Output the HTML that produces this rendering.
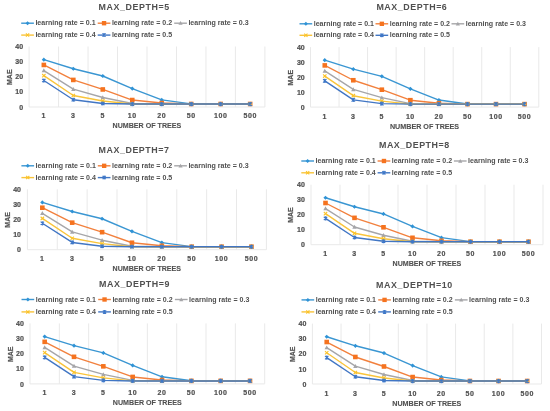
<!DOCTYPE html>
<html><head><meta charset="utf-8"><style>
html,body{margin:0;padding:0;background:#fff;}
svg{display:block;font-family:"Liberation Sans",sans-serif;filter:blur(0.35px);}
.t{fill:#505050;font-weight:bold;stroke:#505050;stroke-width:0.2px;}
.tt{stroke-width:0.0px;}
.tl{font-weight:bold;stroke-width:0.0px;}
.ta{stroke-width:0.2px;}
.tx{stroke-width:0.1px;}
</style></head><body>
<svg width="550" height="411" viewBox="0 0 550 411">
<rect width="550" height="411" fill="#fff"/>
<g><text x="98.40" y="10.10" font-size="8.9" textLength="70.70" lengthAdjust="spacing" class="t tt">MAX_DEPTH=5</text>
<line x1="21.20" y1="23.20" x2="33.90" y2="23.20" stroke="#3a96d2" stroke-width="1.4"/>
<path d="M27.55 21.20L29.54 23.20L27.55 25.20L25.55 23.20Z" fill="#2f93d6"/>
<text x="35.40" y="25.20" font-size="7.15" class="t tl" textLength="60.3" lengthAdjust="spacingAndGlyphs">learning rate = 0.1</text>
<line x1="97.70" y1="23.20" x2="110.40" y2="23.20" stroke="#f2803d" stroke-width="1.4"/>
<rect x="101.86" y="21.02" width="4.37" height="4.37" fill="#f5731f"/>
<text x="111.90" y="25.20" font-size="7.15" class="t tl" textLength="60.3" lengthAdjust="spacingAndGlyphs">learning rate = 0.2</text>
<line x1="174.20" y1="23.20" x2="186.90" y2="23.20" stroke="#a6a6a9" stroke-width="1.4"/>
<path d="M180.55 21.11L182.64 24.87L178.46 24.87Z" fill="#a5a5a8"/>
<text x="188.40" y="25.20" font-size="7.15" class="t tl" textLength="60.3" lengthAdjust="spacingAndGlyphs">learning rate = 0.3</text>
<line x1="21.20" y1="35.10" x2="33.90" y2="35.10" stroke="#f9c43a" stroke-width="1.4"/>
<path d="M25.93 33.48L29.16 36.72M29.16 33.48L25.93 36.72" stroke="#fbc32a" stroke-width="1.1" fill="none"/>
<text x="35.40" y="37.10" font-size="7.15" class="t tl" textLength="60.3" lengthAdjust="spacingAndGlyphs">learning rate = 0.4</text>
<line x1="97.70" y1="35.10" x2="110.40" y2="35.10" stroke="#4176c4" stroke-width="1.4"/>
<path d="M102.44 33.48L105.66 36.72M105.66 33.48L102.44 36.72M104.05 33.09L104.05 37.12" stroke="#3f78c8" stroke-width="1.1" fill="none"/>
<text x="111.90" y="37.10" font-size="7.15" class="t tl" textLength="60.3" lengthAdjust="spacingAndGlyphs">learning rate = 0.5</text>
<line x1="29.10" y1="46.50" x2="29.10" y2="107.00" stroke="#e9e9e9" stroke-width="1"/>
<line x1="58.58" y1="46.50" x2="58.58" y2="107.00" stroke="#e9e9e9" stroke-width="1"/>
<line x1="88.05" y1="46.50" x2="88.05" y2="107.00" stroke="#e9e9e9" stroke-width="1"/>
<line x1="117.53" y1="46.50" x2="117.53" y2="107.00" stroke="#e9e9e9" stroke-width="1"/>
<line x1="147.00" y1="46.50" x2="147.00" y2="107.00" stroke="#e9e9e9" stroke-width="1"/>
<line x1="176.47" y1="46.50" x2="176.47" y2="107.00" stroke="#e9e9e9" stroke-width="1"/>
<line x1="205.95" y1="46.50" x2="205.95" y2="107.00" stroke="#e9e9e9" stroke-width="1"/>
<line x1="235.42" y1="46.50" x2="235.42" y2="107.00" stroke="#e9e9e9" stroke-width="1"/>
<line x1="264.90" y1="46.50" x2="264.90" y2="107.00" stroke="#e9e9e9" stroke-width="1"/>
<line x1="29.10" y1="107.00" x2="264.90" y2="107.00" stroke="#e9e9e9" stroke-width="1"/>
<text x="23.1" y="109.60" font-size="7.0" class="t ta" text-anchor="end">0</text>
<text x="23.1" y="94.47" font-size="7.0" class="t ta" text-anchor="end">10</text>
<text x="23.1" y="79.35" font-size="7.0" class="t ta" text-anchor="end">20</text>
<text x="23.1" y="64.22" font-size="7.0" class="t ta" text-anchor="end">30</text>
<text x="23.1" y="49.10" font-size="7.0" class="t ta" text-anchor="end">40</text>
<text transform="translate(11.50,77.20) rotate(-90)" font-size="7.0" class="t ta" text-anchor="middle">MAE</text>
<text x="43.84" y="118.30" font-size="7.0" letter-spacing="0.6" class="t ta" text-anchor="middle">1</text>
<text x="73.31" y="118.30" font-size="7.0" letter-spacing="0.6" class="t ta" text-anchor="middle">3</text>
<text x="102.79" y="118.30" font-size="7.0" letter-spacing="0.6" class="t ta" text-anchor="middle">5</text>
<text x="132.26" y="118.30" font-size="7.0" letter-spacing="0.6" class="t ta" text-anchor="middle">10</text>
<text x="161.74" y="118.30" font-size="7.0" letter-spacing="0.6" class="t ta" text-anchor="middle">20</text>
<text x="191.21" y="118.30" font-size="7.0" letter-spacing="0.6" class="t ta" text-anchor="middle">50</text>
<text x="220.69" y="118.30" font-size="7.0" letter-spacing="0.6" class="t ta" text-anchor="middle">100</text>
<text x="250.16" y="118.30" font-size="7.0" letter-spacing="0.6" class="t ta" text-anchor="middle">500</text>
<text x="112.50" y="128.20" font-size="7.5" class="t tx" textLength="68.80" lengthAdjust="spacingAndGlyphs">NUMBER OF TREES</text>
<path d="M43.84 59.66L73.31 68.73L102.79 75.99L132.26 88.55L161.74 99.89L191.21 103.90L220.69 103.90L250.16 103.90" stroke="#3a96d2" stroke-width="1.4" fill="none" stroke-linejoin="round"/>
<path d="M43.84 57.56L45.94 59.66L43.84 61.76L41.74 59.66Z" fill="#2f93d6"/>
<path d="M73.31 66.63L75.41 68.73L73.31 70.83L71.21 68.73Z" fill="#2f93d6"/>
<path d="M102.79 73.89L104.89 75.99L102.79 78.09L100.69 75.99Z" fill="#2f93d6"/>
<path d="M132.26 86.45L134.36 88.55L132.26 90.65L130.16 88.55Z" fill="#2f93d6"/>
<path d="M161.74 97.79L163.84 99.89L161.74 101.99L159.64 99.89Z" fill="#2f93d6"/>
<path d="M191.21 101.80L193.31 103.90L191.21 106.00L189.11 103.90Z" fill="#2f93d6"/>
<path d="M220.69 101.80L222.79 103.90L220.69 106.00L218.59 103.90Z" fill="#2f93d6"/>
<path d="M250.16 101.80L252.26 103.90L250.16 106.00L248.06 103.90Z" fill="#2f93d6"/>
<path d="M43.84 64.95L73.31 79.93L102.79 89.45L132.26 100.04L161.74 103.07L191.21 103.97L220.69 103.97L250.16 103.97" stroke="#f2803d" stroke-width="1.4" fill="none" stroke-linejoin="round"/>
<rect x="41.54" y="62.65" width="4.60" height="4.60" fill="#f5731f"/>
<rect x="71.01" y="77.63" width="4.60" height="4.60" fill="#f5731f"/>
<rect x="100.49" y="87.16" width="4.60" height="4.60" fill="#f5731f"/>
<rect x="129.96" y="97.74" width="4.60" height="4.60" fill="#f5731f"/>
<rect x="159.44" y="100.77" width="4.60" height="4.60" fill="#f5731f"/>
<rect x="188.91" y="101.67" width="4.60" height="4.60" fill="#f5731f"/>
<rect x="218.39" y="101.67" width="4.60" height="4.60" fill="#f5731f"/>
<rect x="247.86" y="101.67" width="4.60" height="4.60" fill="#f5731f"/>
<path d="M43.84 70.55L73.31 89.15L102.79 97.47L132.26 103.52L161.74 103.97L191.21 103.97L220.69 103.97L250.16 103.97" stroke="#a6a6a9" stroke-width="1.4" fill="none" stroke-linejoin="round"/>
<path d="M43.84 68.35L46.04 72.31L41.64 72.31Z" fill="#a5a5a8"/>
<path d="M73.31 86.95L75.51 90.91L71.11 90.91Z" fill="#a5a5a8"/>
<path d="M102.79 95.27L104.99 99.23L100.59 99.23Z" fill="#a5a5a8"/>
<path d="M132.26 101.32L134.46 105.28L130.06 105.28Z" fill="#a5a5a8"/>
<path d="M161.74 101.77L163.94 105.73L159.54 105.73Z" fill="#a5a5a8"/>
<path d="M191.21 101.77L193.41 105.73L189.01 105.73Z" fill="#a5a5a8"/>
<path d="M220.69 101.77L222.89 105.73L218.49 105.73Z" fill="#a5a5a8"/>
<path d="M250.16 101.77L252.36 105.73L247.96 105.73Z" fill="#a5a5a8"/>
<path d="M43.84 75.69L73.31 95.50L102.79 100.95L132.26 103.97L161.74 103.97L191.21 103.97L220.69 103.97L250.16 103.97" stroke="#f9c43a" stroke-width="1.4" fill="none" stroke-linejoin="round"/>
<path d="M42.14 73.99L45.54 77.39M45.54 73.99L42.14 77.39" stroke="#fbc32a" stroke-width="1.1" fill="none"/>
<path d="M71.61 93.80L75.01 97.20M75.01 93.80L71.61 97.20" stroke="#fbc32a" stroke-width="1.1" fill="none"/>
<path d="M101.09 99.25L104.49 102.65M104.49 99.25L101.09 102.65" stroke="#fbc32a" stroke-width="1.1" fill="none"/>
<path d="M130.56 102.27L133.96 105.67M133.96 102.27L130.56 105.67" stroke="#fbc32a" stroke-width="1.1" fill="none"/>
<path d="M160.04 102.27L163.44 105.67M163.44 102.27L160.04 105.67" stroke="#fbc32a" stroke-width="1.1" fill="none"/>
<path d="M189.51 102.27L192.91 105.67M192.91 102.27L189.51 105.67" stroke="#fbc32a" stroke-width="1.1" fill="none"/>
<path d="M218.99 102.27L222.39 105.67M222.39 102.27L218.99 105.67" stroke="#fbc32a" stroke-width="1.1" fill="none"/>
<path d="M248.46 102.27L251.86 105.67M251.86 102.27L248.46 105.67" stroke="#fbc32a" stroke-width="1.1" fill="none"/>
<path d="M43.84 80.53L73.31 99.74L102.79 103.52L132.26 104.05L161.74 104.05L191.21 104.05L220.69 104.05L250.16 104.05" stroke="#4176c4" stroke-width="1.4" fill="none" stroke-linejoin="round"/>
<path d="M42.14 78.83L45.54 82.23M45.54 78.83L42.14 82.23M43.84 78.43L43.84 82.63" stroke="#3f78c8" stroke-width="1.1" fill="none"/>
<path d="M71.61 98.04L75.01 101.44M75.01 98.04L71.61 101.44M73.31 97.64L73.31 101.84" stroke="#3f78c8" stroke-width="1.1" fill="none"/>
<path d="M101.09 101.82L104.49 105.22M104.49 101.82L101.09 105.22M102.79 101.42L102.79 105.62" stroke="#3f78c8" stroke-width="1.1" fill="none"/>
<path d="M130.56 102.35L133.96 105.75M133.96 102.35L130.56 105.75M132.26 101.95L132.26 106.15" stroke="#3f78c8" stroke-width="1.1" fill="none"/>
<path d="M160.04 102.35L163.44 105.75M163.44 102.35L160.04 105.75M161.74 101.95L161.74 106.15" stroke="#3f78c8" stroke-width="1.1" fill="none"/>
<path d="M189.51 102.35L192.91 105.75M192.91 102.35L189.51 105.75M191.21 101.95L191.21 106.15" stroke="#3f78c8" stroke-width="1.1" fill="none"/>
<path d="M218.99 102.35L222.39 105.75M222.39 102.35L218.99 105.75M220.69 101.95L220.69 106.15" stroke="#3f78c8" stroke-width="1.1" fill="none"/>
<path d="M248.46 102.35L251.86 105.75M251.86 102.35L248.46 105.75M250.16 101.95L250.16 106.15" stroke="#3f78c8" stroke-width="1.1" fill="none"/></g><g><text x="376.40" y="10.40" font-size="8.9" textLength="70.40" lengthAdjust="spacing" class="t tt">MAX_DEPTH=6</text>
<line x1="299.50" y1="23.80" x2="312.20" y2="23.80" stroke="#3a96d2" stroke-width="1.4"/>
<path d="M305.85 21.80L307.85 23.80L305.85 25.80L303.86 23.80Z" fill="#2f93d6"/>
<text x="313.70" y="25.80" font-size="7.15" class="t tl" textLength="60.3" lengthAdjust="spacingAndGlyphs">learning rate = 0.1</text>
<line x1="375.50" y1="23.80" x2="388.20" y2="23.80" stroke="#f2803d" stroke-width="1.4"/>
<rect x="379.67" y="21.62" width="4.37" height="4.37" fill="#f5731f"/>
<text x="389.70" y="25.80" font-size="7.15" class="t tl" textLength="60.3" lengthAdjust="spacingAndGlyphs">learning rate = 0.2</text>
<line x1="451.50" y1="23.80" x2="464.20" y2="23.80" stroke="#a6a6a9" stroke-width="1.4"/>
<path d="M457.85 21.71L459.94 25.47L455.76 25.47Z" fill="#a5a5a8"/>
<text x="465.70" y="25.80" font-size="7.15" class="t tl" textLength="60.3" lengthAdjust="spacingAndGlyphs">learning rate = 0.3</text>
<line x1="299.50" y1="35.30" x2="312.20" y2="35.30" stroke="#f9c43a" stroke-width="1.4"/>
<path d="M304.24 33.68L307.47 36.91M307.47 33.68L304.24 36.91" stroke="#fbc32a" stroke-width="1.1" fill="none"/>
<text x="313.70" y="37.30" font-size="7.15" class="t tl" textLength="60.3" lengthAdjust="spacingAndGlyphs">learning rate = 0.4</text>
<line x1="375.50" y1="35.30" x2="388.20" y2="35.30" stroke="#4176c4" stroke-width="1.4"/>
<path d="M380.24 33.68L383.47 36.91M383.47 33.68L380.24 36.91M381.85 33.28L381.85 37.31" stroke="#3f78c8" stroke-width="1.1" fill="none"/>
<text x="389.70" y="37.30" font-size="7.15" class="t tl" textLength="60.3" lengthAdjust="spacingAndGlyphs">learning rate = 0.5</text>
<line x1="310.50" y1="47.10" x2="310.50" y2="107.10" stroke="#e9e9e9" stroke-width="1"/>
<line x1="339.04" y1="47.10" x2="339.04" y2="107.10" stroke="#e9e9e9" stroke-width="1"/>
<line x1="367.57" y1="47.10" x2="367.57" y2="107.10" stroke="#e9e9e9" stroke-width="1"/>
<line x1="396.11" y1="47.10" x2="396.11" y2="107.10" stroke="#e9e9e9" stroke-width="1"/>
<line x1="424.65" y1="47.10" x2="424.65" y2="107.10" stroke="#e9e9e9" stroke-width="1"/>
<line x1="453.19" y1="47.10" x2="453.19" y2="107.10" stroke="#e9e9e9" stroke-width="1"/>
<line x1="481.72" y1="47.10" x2="481.72" y2="107.10" stroke="#e9e9e9" stroke-width="1"/>
<line x1="510.26" y1="47.10" x2="510.26" y2="107.10" stroke="#e9e9e9" stroke-width="1"/>
<line x1="538.80" y1="47.10" x2="538.80" y2="107.10" stroke="#e9e9e9" stroke-width="1"/>
<line x1="310.50" y1="107.10" x2="538.80" y2="107.10" stroke="#e9e9e9" stroke-width="1"/>
<text x="304.7" y="109.70" font-size="7.0" class="t ta" text-anchor="end">0</text>
<text x="304.7" y="94.70" font-size="7.0" class="t ta" text-anchor="end">10</text>
<text x="304.7" y="79.70" font-size="7.0" class="t ta" text-anchor="end">20</text>
<text x="304.7" y="64.70" font-size="7.0" class="t ta" text-anchor="end">30</text>
<text x="304.7" y="49.70" font-size="7.0" class="t ta" text-anchor="end">40</text>
<text transform="translate(293.35,77.70) rotate(-90)" font-size="7.0" class="t ta" text-anchor="middle">MAE</text>
<text x="324.77" y="118.70" font-size="7.0" letter-spacing="0.6" class="t ta" text-anchor="middle">1</text>
<text x="353.31" y="118.70" font-size="7.0" letter-spacing="0.6" class="t ta" text-anchor="middle">3</text>
<text x="381.84" y="118.70" font-size="7.0" letter-spacing="0.6" class="t ta" text-anchor="middle">5</text>
<text x="410.38" y="118.70" font-size="7.0" letter-spacing="0.6" class="t ta" text-anchor="middle">10</text>
<text x="438.92" y="118.70" font-size="7.0" letter-spacing="0.6" class="t ta" text-anchor="middle">20</text>
<text x="467.46" y="118.70" font-size="7.0" letter-spacing="0.6" class="t ta" text-anchor="middle">50</text>
<text x="495.99" y="118.70" font-size="7.0" letter-spacing="0.6" class="t ta" text-anchor="middle">100</text>
<text x="524.53" y="118.70" font-size="7.0" letter-spacing="0.6" class="t ta" text-anchor="middle">500</text>
<text x="389.95" y="128.90" font-size="7.5" class="t tx" textLength="69.20" lengthAdjust="spacingAndGlyphs">NUMBER OF TREES</text>
<path d="M324.77 60.15L353.31 69.15L381.84 76.35L410.38 88.80L438.92 100.05L467.46 104.02L495.99 104.02L524.53 104.02" stroke="#3a96d2" stroke-width="1.4" fill="none" stroke-linejoin="round"/>
<path d="M324.77 58.05L326.87 60.15L324.77 62.25L322.67 60.15Z" fill="#2f93d6"/>
<path d="M353.31 67.05L355.41 69.15L353.31 71.25L351.21 69.15Z" fill="#2f93d6"/>
<path d="M381.84 74.25L383.94 76.35L381.84 78.45L379.74 76.35Z" fill="#2f93d6"/>
<path d="M410.38 86.70L412.48 88.80L410.38 90.90L408.28 88.80Z" fill="#2f93d6"/>
<path d="M438.92 97.95L441.02 100.05L438.92 102.15L436.82 100.05Z" fill="#2f93d6"/>
<path d="M467.46 101.92L469.56 104.02L467.46 106.12L465.36 104.02Z" fill="#2f93d6"/>
<path d="M495.99 101.92L498.09 104.02L495.99 106.12L493.89 104.02Z" fill="#2f93d6"/>
<path d="M524.53 101.92L526.63 104.02L524.53 106.12L522.43 104.02Z" fill="#2f93d6"/>
<path d="M324.77 65.40L353.31 80.25L381.84 89.70L410.38 100.20L438.92 103.20L467.46 104.10L495.99 104.10L524.53 104.10" stroke="#f2803d" stroke-width="1.4" fill="none" stroke-linejoin="round"/>
<rect x="322.47" y="63.10" width="4.60" height="4.60" fill="#f5731f"/>
<rect x="351.01" y="77.95" width="4.60" height="4.60" fill="#f5731f"/>
<rect x="379.54" y="87.40" width="4.60" height="4.60" fill="#f5731f"/>
<rect x="408.08" y="97.90" width="4.60" height="4.60" fill="#f5731f"/>
<rect x="436.62" y="100.90" width="4.60" height="4.60" fill="#f5731f"/>
<rect x="465.16" y="101.80" width="4.60" height="4.60" fill="#f5731f"/>
<rect x="493.69" y="101.80" width="4.60" height="4.60" fill="#f5731f"/>
<rect x="522.23" y="101.80" width="4.60" height="4.60" fill="#f5731f"/>
<path d="M324.77 70.95L353.31 89.40L381.84 97.65L410.38 103.65L438.92 104.10L467.46 104.10L495.99 104.10L524.53 104.10" stroke="#a6a6a9" stroke-width="1.4" fill="none" stroke-linejoin="round"/>
<path d="M324.77 68.75L326.97 72.71L322.57 72.71Z" fill="#a5a5a8"/>
<path d="M353.31 87.20L355.51 91.16L351.11 91.16Z" fill="#a5a5a8"/>
<path d="M381.84 95.45L384.04 99.41L379.64 99.41Z" fill="#a5a5a8"/>
<path d="M410.38 101.45L412.58 105.41L408.18 105.41Z" fill="#a5a5a8"/>
<path d="M438.92 101.90L441.12 105.86L436.72 105.86Z" fill="#a5a5a8"/>
<path d="M467.46 101.90L469.66 105.86L465.26 105.86Z" fill="#a5a5a8"/>
<path d="M495.99 101.90L498.19 105.86L493.79 105.86Z" fill="#a5a5a8"/>
<path d="M524.53 101.90L526.73 105.86L522.33 105.86Z" fill="#a5a5a8"/>
<path d="M324.77 76.05L353.31 95.70L381.84 101.10L410.38 104.10L438.92 104.10L467.46 104.10L495.99 104.10L524.53 104.10" stroke="#f9c43a" stroke-width="1.4" fill="none" stroke-linejoin="round"/>
<path d="M323.07 74.35L326.47 77.75M326.47 74.35L323.07 77.75" stroke="#fbc32a" stroke-width="1.1" fill="none"/>
<path d="M351.61 94.00L355.01 97.40M355.01 94.00L351.61 97.40" stroke="#fbc32a" stroke-width="1.1" fill="none"/>
<path d="M380.14 99.40L383.54 102.80M383.54 99.40L380.14 102.80" stroke="#fbc32a" stroke-width="1.1" fill="none"/>
<path d="M408.68 102.40L412.08 105.80M412.08 102.40L408.68 105.80" stroke="#fbc32a" stroke-width="1.1" fill="none"/>
<path d="M437.22 102.40L440.62 105.80M440.62 102.40L437.22 105.80" stroke="#fbc32a" stroke-width="1.1" fill="none"/>
<path d="M465.76 102.40L469.16 105.80M469.16 102.40L465.76 105.80" stroke="#fbc32a" stroke-width="1.1" fill="none"/>
<path d="M494.29 102.40L497.69 105.80M497.69 102.40L494.29 105.80" stroke="#fbc32a" stroke-width="1.1" fill="none"/>
<path d="M522.83 102.40L526.23 105.80M526.23 102.40L522.83 105.80" stroke="#fbc32a" stroke-width="1.1" fill="none"/>
<path d="M324.77 80.85L353.31 99.90L381.84 103.65L410.38 104.17L438.92 104.17L467.46 104.17L495.99 104.17L524.53 104.17" stroke="#4176c4" stroke-width="1.4" fill="none" stroke-linejoin="round"/>
<path d="M323.07 79.15L326.47 82.55M326.47 79.15L323.07 82.55M324.77 78.75L324.77 82.95" stroke="#3f78c8" stroke-width="1.1" fill="none"/>
<path d="M351.61 98.20L355.01 101.60M355.01 98.20L351.61 101.60M353.31 97.80L353.31 102.00" stroke="#3f78c8" stroke-width="1.1" fill="none"/>
<path d="M380.14 101.95L383.54 105.35M383.54 101.95L380.14 105.35M381.84 101.55L381.84 105.75" stroke="#3f78c8" stroke-width="1.1" fill="none"/>
<path d="M408.68 102.47L412.08 105.88M412.08 102.47L408.68 105.88M410.38 102.07L410.38 106.28" stroke="#3f78c8" stroke-width="1.1" fill="none"/>
<path d="M437.22 102.47L440.62 105.88M440.62 102.47L437.22 105.88M438.92 102.07L438.92 106.28" stroke="#3f78c8" stroke-width="1.1" fill="none"/>
<path d="M465.76 102.47L469.16 105.88M469.16 102.47L465.76 105.88M467.46 102.07L467.46 106.28" stroke="#3f78c8" stroke-width="1.1" fill="none"/>
<path d="M494.29 102.47L497.69 105.88M497.69 102.47L494.29 105.88M495.99 102.07L495.99 106.28" stroke="#3f78c8" stroke-width="1.1" fill="none"/>
<path d="M522.83 102.47L526.23 105.88M526.23 102.47L522.83 105.88M524.53 102.07L524.53 106.28" stroke="#3f78c8" stroke-width="1.1" fill="none"/></g><g><text x="98.60" y="153.20" font-size="8.9" textLength="70.30" lengthAdjust="spacing" class="t tt">MAX_DEPTH=7</text>
<line x1="21.40" y1="165.80" x2="34.10" y2="165.80" stroke="#3a96d2" stroke-width="1.4"/>
<path d="M27.75 163.81L29.75 165.80L27.75 167.80L25.75 165.80Z" fill="#2f93d6"/>
<text x="35.60" y="167.80" font-size="7.15" class="t tl" textLength="60.3" lengthAdjust="spacingAndGlyphs">learning rate = 0.1</text>
<line x1="97.80" y1="165.80" x2="110.50" y2="165.80" stroke="#f2803d" stroke-width="1.4"/>
<rect x="101.97" y="163.62" width="4.37" height="4.37" fill="#f5731f"/>
<text x="112.00" y="167.80" font-size="7.15" class="t tl" textLength="60.3" lengthAdjust="spacingAndGlyphs">learning rate = 0.2</text>
<line x1="174.20" y1="165.80" x2="186.90" y2="165.80" stroke="#a6a6a9" stroke-width="1.4"/>
<path d="M180.55 163.71L182.64 167.47L178.46 167.47Z" fill="#a5a5a8"/>
<text x="188.40" y="167.80" font-size="7.15" class="t tl" textLength="60.3" lengthAdjust="spacingAndGlyphs">learning rate = 0.3</text>
<line x1="21.40" y1="177.60" x2="34.10" y2="177.60" stroke="#f9c43a" stroke-width="1.4"/>
<path d="M26.14 175.98L29.36 179.22M29.36 175.98L26.14 179.22" stroke="#fbc32a" stroke-width="1.1" fill="none"/>
<text x="35.60" y="179.60" font-size="7.15" class="t tl" textLength="60.3" lengthAdjust="spacingAndGlyphs">learning rate = 0.4</text>
<line x1="97.80" y1="177.60" x2="110.50" y2="177.60" stroke="#4176c4" stroke-width="1.4"/>
<path d="M102.54 175.98L105.77 179.22M105.77 175.98L102.54 179.22M104.15 175.58L104.15 179.62" stroke="#3f78c8" stroke-width="1.1" fill="none"/>
<text x="112.00" y="179.60" font-size="7.15" class="t tl" textLength="60.3" lengthAdjust="spacingAndGlyphs">learning rate = 0.5</text>
<line x1="27.40" y1="189.30" x2="27.40" y2="249.70" stroke="#e9e9e9" stroke-width="1"/>
<line x1="57.27" y1="189.30" x2="57.27" y2="249.70" stroke="#e9e9e9" stroke-width="1"/>
<line x1="87.15" y1="189.30" x2="87.15" y2="249.70" stroke="#e9e9e9" stroke-width="1"/>
<line x1="117.02" y1="189.30" x2="117.02" y2="249.70" stroke="#e9e9e9" stroke-width="1"/>
<line x1="146.90" y1="189.30" x2="146.90" y2="249.70" stroke="#e9e9e9" stroke-width="1"/>
<line x1="176.77" y1="189.30" x2="176.77" y2="249.70" stroke="#e9e9e9" stroke-width="1"/>
<line x1="206.65" y1="189.30" x2="206.65" y2="249.70" stroke="#e9e9e9" stroke-width="1"/>
<line x1="236.52" y1="189.30" x2="236.52" y2="249.70" stroke="#e9e9e9" stroke-width="1"/>
<line x1="266.40" y1="189.30" x2="266.40" y2="249.70" stroke="#e9e9e9" stroke-width="1"/>
<line x1="27.40" y1="249.70" x2="266.40" y2="249.70" stroke="#e9e9e9" stroke-width="1"/>
<text x="21.0" y="252.30" font-size="7.0" class="t ta" text-anchor="end">0</text>
<text x="21.0" y="237.20" font-size="7.0" class="t ta" text-anchor="end">10</text>
<text x="21.0" y="222.10" font-size="7.0" class="t ta" text-anchor="end">20</text>
<text x="21.0" y="207.00" font-size="7.0" class="t ta" text-anchor="end">30</text>
<text x="21.0" y="191.90" font-size="7.0" class="t ta" text-anchor="end">40</text>
<text transform="translate(9.70,219.90) rotate(-90)" font-size="7.0" class="t ta" text-anchor="middle">MAE</text>
<text x="42.34" y="261.00" font-size="7.0" letter-spacing="0.6" class="t ta" text-anchor="middle">1</text>
<text x="72.21" y="261.00" font-size="7.0" letter-spacing="0.6" class="t ta" text-anchor="middle">3</text>
<text x="102.09" y="261.00" font-size="7.0" letter-spacing="0.6" class="t ta" text-anchor="middle">5</text>
<text x="131.96" y="261.00" font-size="7.0" letter-spacing="0.6" class="t ta" text-anchor="middle">10</text>
<text x="161.84" y="261.00" font-size="7.0" letter-spacing="0.6" class="t ta" text-anchor="middle">20</text>
<text x="191.71" y="261.00" font-size="7.0" letter-spacing="0.6" class="t ta" text-anchor="middle">50</text>
<text x="221.59" y="261.00" font-size="7.0" letter-spacing="0.6" class="t ta" text-anchor="middle">100</text>
<text x="251.46" y="261.00" font-size="7.0" letter-spacing="0.6" class="t ta" text-anchor="middle">500</text>
<text x="112.55" y="271.30" font-size="7.5" class="t tx" textLength="68.50" lengthAdjust="spacingAndGlyphs">NUMBER OF TREES</text>
<path d="M42.34 202.44L72.21 211.50L102.09 218.75L131.96 231.28L161.84 242.60L191.71 246.60L221.59 246.60L251.46 246.60" stroke="#3a96d2" stroke-width="1.4" fill="none" stroke-linejoin="round"/>
<path d="M42.34 200.34L44.44 202.44L42.34 204.54L40.24 202.44Z" fill="#2f93d6"/>
<path d="M72.21 209.40L74.31 211.50L72.21 213.60L70.11 211.50Z" fill="#2f93d6"/>
<path d="M102.09 216.65L104.19 218.75L102.09 220.84L99.99 218.75Z" fill="#2f93d6"/>
<path d="M131.96 229.18L134.06 231.28L131.96 233.38L129.86 231.28Z" fill="#2f93d6"/>
<path d="M161.84 240.50L163.94 242.60L161.84 244.70L159.74 242.60Z" fill="#2f93d6"/>
<path d="M191.71 244.50L193.81 246.60L191.71 248.70L189.61 246.60Z" fill="#2f93d6"/>
<path d="M221.59 244.50L223.69 246.60L221.59 248.70L219.49 246.60Z" fill="#2f93d6"/>
<path d="M251.46 244.50L253.56 246.60L251.46 248.70L249.36 246.60Z" fill="#2f93d6"/>
<path d="M42.34 207.72L72.21 222.67L102.09 232.18L131.96 242.75L161.84 245.77L191.71 246.68L221.59 246.68L251.46 246.68" stroke="#f2803d" stroke-width="1.4" fill="none" stroke-linejoin="round"/>
<rect x="40.04" y="205.42" width="4.60" height="4.60" fill="#f5731f"/>
<rect x="69.91" y="220.37" width="4.60" height="4.60" fill="#f5731f"/>
<rect x="99.79" y="229.88" width="4.60" height="4.60" fill="#f5731f"/>
<rect x="129.66" y="240.45" width="4.60" height="4.60" fill="#f5731f"/>
<rect x="159.54" y="243.47" width="4.60" height="4.60" fill="#f5731f"/>
<rect x="189.41" y="244.38" width="4.60" height="4.60" fill="#f5731f"/>
<rect x="219.29" y="244.38" width="4.60" height="4.60" fill="#f5731f"/>
<rect x="249.16" y="244.38" width="4.60" height="4.60" fill="#f5731f"/>
<path d="M42.34 213.31L72.21 231.88L102.09 240.19L131.96 246.23L161.84 246.68L191.71 246.68L221.59 246.68L251.46 246.68" stroke="#a6a6a9" stroke-width="1.4" fill="none" stroke-linejoin="round"/>
<path d="M42.34 211.11L44.54 215.07L40.14 215.07Z" fill="#a5a5a8"/>
<path d="M72.21 229.68L74.41 233.64L70.01 233.64Z" fill="#a5a5a8"/>
<path d="M102.09 237.99L104.29 241.95L99.89 241.95Z" fill="#a5a5a8"/>
<path d="M131.96 244.03L134.16 247.99L129.76 247.99Z" fill="#a5a5a8"/>
<path d="M161.84 244.48L164.04 248.44L159.64 248.44Z" fill="#a5a5a8"/>
<path d="M191.71 244.48L193.91 248.44L189.51 248.44Z" fill="#a5a5a8"/>
<path d="M221.59 244.48L223.79 248.44L219.39 248.44Z" fill="#a5a5a8"/>
<path d="M251.46 244.48L253.66 248.44L249.26 248.44Z" fill="#a5a5a8"/>
<path d="M42.34 218.44L72.21 238.22L102.09 243.66L131.96 246.68L161.84 246.68L191.71 246.68L221.59 246.68L251.46 246.68" stroke="#f9c43a" stroke-width="1.4" fill="none" stroke-linejoin="round"/>
<path d="M40.64 216.74L44.04 220.14M44.04 216.74L40.64 220.14" stroke="#fbc32a" stroke-width="1.1" fill="none"/>
<path d="M70.51 236.52L73.91 239.92M73.91 236.52L70.51 239.92" stroke="#fbc32a" stroke-width="1.1" fill="none"/>
<path d="M100.39 241.96L103.79 245.36M103.79 241.96L100.39 245.36" stroke="#fbc32a" stroke-width="1.1" fill="none"/>
<path d="M130.26 244.98L133.66 248.38M133.66 244.98L130.26 248.38" stroke="#fbc32a" stroke-width="1.1" fill="none"/>
<path d="M160.14 244.98L163.54 248.38M163.54 244.98L160.14 248.38" stroke="#fbc32a" stroke-width="1.1" fill="none"/>
<path d="M190.01 244.98L193.41 248.38M193.41 244.98L190.01 248.38" stroke="#fbc32a" stroke-width="1.1" fill="none"/>
<path d="M219.89 244.98L223.29 248.38M223.29 244.98L219.89 248.38" stroke="#fbc32a" stroke-width="1.1" fill="none"/>
<path d="M249.76 244.98L253.16 248.38M253.16 244.98L249.76 248.38" stroke="#fbc32a" stroke-width="1.1" fill="none"/>
<path d="M42.34 223.28L72.21 242.45L102.09 246.23L131.96 246.76L161.84 246.76L191.71 246.76L221.59 246.76L251.46 246.76" stroke="#4176c4" stroke-width="1.4" fill="none" stroke-linejoin="round"/>
<path d="M40.64 221.58L44.04 224.97M44.04 221.58L40.64 224.97M42.34 221.18L42.34 225.38" stroke="#3f78c8" stroke-width="1.1" fill="none"/>
<path d="M70.51 240.75L73.91 244.15M73.91 240.75L70.51 244.15M72.21 240.35L72.21 244.55" stroke="#3f78c8" stroke-width="1.1" fill="none"/>
<path d="M100.39 244.53L103.79 247.93M103.79 244.53L100.39 247.93M102.09 244.13L102.09 248.33" stroke="#3f78c8" stroke-width="1.1" fill="none"/>
<path d="M130.26 245.06L133.66 248.46M133.66 245.06L130.26 248.46M131.96 244.66L131.96 248.86" stroke="#3f78c8" stroke-width="1.1" fill="none"/>
<path d="M160.14 245.06L163.54 248.46M163.54 245.06L160.14 248.46M161.84 244.66L161.84 248.86" stroke="#3f78c8" stroke-width="1.1" fill="none"/>
<path d="M190.01 245.06L193.41 248.46M193.41 245.06L190.01 248.46M191.71 244.66L191.71 248.86" stroke="#3f78c8" stroke-width="1.1" fill="none"/>
<path d="M219.89 245.06L223.29 248.46M223.29 245.06L219.89 248.46M221.59 244.66L221.59 248.86" stroke="#3f78c8" stroke-width="1.1" fill="none"/>
<path d="M249.76 245.06L253.16 248.46M253.16 245.06L249.76 248.46M251.46 244.66L251.46 248.86" stroke="#3f78c8" stroke-width="1.1" fill="none"/></g><g><text x="379.00" y="148.00" font-size="8.9" textLength="70.10" lengthAdjust="spacing" class="t tt">MAX_DEPTH=8</text>
<line x1="301.30" y1="161.00" x2="314.00" y2="161.00" stroke="#3a96d2" stroke-width="1.4"/>
<path d="M307.65 159.00L309.65 161.00L307.65 163.00L305.66 161.00Z" fill="#2f93d6"/>
<text x="315.50" y="163.00" font-size="7.15" class="t tl" textLength="60.3" lengthAdjust="spacingAndGlyphs">learning rate = 0.1</text>
<line x1="377.60" y1="161.00" x2="390.30" y2="161.00" stroke="#f2803d" stroke-width="1.4"/>
<rect x="381.77" y="158.81" width="4.37" height="4.37" fill="#f5731f"/>
<text x="391.80" y="163.00" font-size="7.15" class="t tl" textLength="60.3" lengthAdjust="spacingAndGlyphs">learning rate = 0.2</text>
<line x1="453.90" y1="161.00" x2="466.60" y2="161.00" stroke="#a6a6a9" stroke-width="1.4"/>
<path d="M460.25 158.91L462.34 162.67L458.16 162.67Z" fill="#a5a5a8"/>
<text x="468.10" y="163.00" font-size="7.15" class="t tl" textLength="60.3" lengthAdjust="spacingAndGlyphs">learning rate = 0.3</text>
<line x1="301.30" y1="172.80" x2="314.00" y2="172.80" stroke="#f9c43a" stroke-width="1.4"/>
<path d="M306.04 171.19L309.27 174.42M309.27 171.19L306.04 174.42" stroke="#fbc32a" stroke-width="1.1" fill="none"/>
<text x="315.50" y="174.80" font-size="7.15" class="t tl" textLength="60.3" lengthAdjust="spacingAndGlyphs">learning rate = 0.4</text>
<line x1="377.60" y1="172.80" x2="390.30" y2="172.80" stroke="#4176c4" stroke-width="1.4"/>
<path d="M382.34 171.19L385.57 174.42M385.57 171.19L382.34 174.42M383.95 170.78L383.95 174.82" stroke="#3f78c8" stroke-width="1.1" fill="none"/>
<text x="391.80" y="174.80" font-size="7.15" class="t tl" textLength="60.3" lengthAdjust="spacingAndGlyphs">learning rate = 0.5</text>
<line x1="311.00" y1="184.70" x2="311.00" y2="244.70" stroke="#e9e9e9" stroke-width="1"/>
<line x1="340.00" y1="184.70" x2="340.00" y2="244.70" stroke="#e9e9e9" stroke-width="1"/>
<line x1="369.00" y1="184.70" x2="369.00" y2="244.70" stroke="#e9e9e9" stroke-width="1"/>
<line x1="398.00" y1="184.70" x2="398.00" y2="244.70" stroke="#e9e9e9" stroke-width="1"/>
<line x1="427.00" y1="184.70" x2="427.00" y2="244.70" stroke="#e9e9e9" stroke-width="1"/>
<line x1="456.00" y1="184.70" x2="456.00" y2="244.70" stroke="#e9e9e9" stroke-width="1"/>
<line x1="485.00" y1="184.70" x2="485.00" y2="244.70" stroke="#e9e9e9" stroke-width="1"/>
<line x1="514.00" y1="184.70" x2="514.00" y2="244.70" stroke="#e9e9e9" stroke-width="1"/>
<line x1="543.00" y1="184.70" x2="543.00" y2="244.70" stroke="#e9e9e9" stroke-width="1"/>
<line x1="311.00" y1="244.70" x2="543.00" y2="244.70" stroke="#e9e9e9" stroke-width="1"/>
<text x="304.8" y="247.30" font-size="7.0" class="t ta" text-anchor="end">0</text>
<text x="304.8" y="232.30" font-size="7.0" class="t ta" text-anchor="end">10</text>
<text x="304.8" y="217.30" font-size="7.0" class="t ta" text-anchor="end">20</text>
<text x="304.8" y="202.30" font-size="7.0" class="t ta" text-anchor="end">30</text>
<text x="304.8" y="187.30" font-size="7.0" class="t ta" text-anchor="end">40</text>
<text transform="translate(293.40,215.00) rotate(-90)" font-size="7.0" class="t ta" text-anchor="middle">MAE</text>
<text x="325.50" y="256.30" font-size="7.0" letter-spacing="0.6" class="t ta" text-anchor="middle">1</text>
<text x="354.50" y="256.30" font-size="7.0" letter-spacing="0.6" class="t ta" text-anchor="middle">3</text>
<text x="383.50" y="256.30" font-size="7.0" letter-spacing="0.6" class="t ta" text-anchor="middle">5</text>
<text x="412.50" y="256.30" font-size="7.0" letter-spacing="0.6" class="t ta" text-anchor="middle">10</text>
<text x="441.50" y="256.30" font-size="7.0" letter-spacing="0.6" class="t ta" text-anchor="middle">20</text>
<text x="470.50" y="256.30" font-size="7.0" letter-spacing="0.6" class="t ta" text-anchor="middle">50</text>
<text x="499.50" y="256.30" font-size="7.0" letter-spacing="0.6" class="t ta" text-anchor="middle">100</text>
<text x="528.50" y="256.30" font-size="7.0" letter-spacing="0.6" class="t ta" text-anchor="middle">500</text>
<text x="392.50" y="266.40" font-size="7.5" class="t tx" textLength="68.80" lengthAdjust="spacingAndGlyphs">NUMBER OF TREES</text>
<path d="M325.50 197.75L354.50 206.75L383.50 213.95L412.50 226.40L441.50 237.65L470.50 241.62L499.50 241.62L528.50 241.62" stroke="#3a96d2" stroke-width="1.4" fill="none" stroke-linejoin="round"/>
<path d="M325.50 195.65L327.60 197.75L325.50 199.85L323.40 197.75Z" fill="#2f93d6"/>
<path d="M354.50 204.65L356.60 206.75L354.50 208.85L352.40 206.75Z" fill="#2f93d6"/>
<path d="M383.50 211.85L385.60 213.95L383.50 216.05L381.40 213.95Z" fill="#2f93d6"/>
<path d="M412.50 224.30L414.60 226.40L412.50 228.50L410.40 226.40Z" fill="#2f93d6"/>
<path d="M441.50 235.55L443.60 237.65L441.50 239.75L439.40 237.65Z" fill="#2f93d6"/>
<path d="M470.50 239.53L472.60 241.62L470.50 243.72L468.40 241.62Z" fill="#2f93d6"/>
<path d="M499.50 239.53L501.60 241.62L499.50 243.72L497.40 241.62Z" fill="#2f93d6"/>
<path d="M528.50 239.53L530.60 241.62L528.50 243.72L526.40 241.62Z" fill="#2f93d6"/>
<path d="M325.50 203.00L354.50 217.85L383.50 227.30L412.50 237.80L441.50 240.80L470.50 241.70L499.50 241.70L528.50 241.70" stroke="#f2803d" stroke-width="1.4" fill="none" stroke-linejoin="round"/>
<rect x="323.20" y="200.70" width="4.60" height="4.60" fill="#f5731f"/>
<rect x="352.20" y="215.55" width="4.60" height="4.60" fill="#f5731f"/>
<rect x="381.20" y="225.00" width="4.60" height="4.60" fill="#f5731f"/>
<rect x="410.20" y="235.50" width="4.60" height="4.60" fill="#f5731f"/>
<rect x="439.20" y="238.50" width="4.60" height="4.60" fill="#f5731f"/>
<rect x="468.20" y="239.40" width="4.60" height="4.60" fill="#f5731f"/>
<rect x="497.20" y="239.40" width="4.60" height="4.60" fill="#f5731f"/>
<rect x="526.20" y="239.40" width="4.60" height="4.60" fill="#f5731f"/>
<path d="M325.50 208.55L354.50 227.00L383.50 235.25L412.50 241.25L441.50 241.70L470.50 241.70L499.50 241.70L528.50 241.70" stroke="#a6a6a9" stroke-width="1.4" fill="none" stroke-linejoin="round"/>
<path d="M325.50 206.35L327.70 210.31L323.30 210.31Z" fill="#a5a5a8"/>
<path d="M354.50 224.80L356.70 228.76L352.30 228.76Z" fill="#a5a5a8"/>
<path d="M383.50 233.05L385.70 237.01L381.30 237.01Z" fill="#a5a5a8"/>
<path d="M412.50 239.05L414.70 243.01L410.30 243.01Z" fill="#a5a5a8"/>
<path d="M441.50 239.50L443.70 243.46L439.30 243.46Z" fill="#a5a5a8"/>
<path d="M470.50 239.50L472.70 243.46L468.30 243.46Z" fill="#a5a5a8"/>
<path d="M499.50 239.50L501.70 243.46L497.30 243.46Z" fill="#a5a5a8"/>
<path d="M528.50 239.50L530.70 243.46L526.30 243.46Z" fill="#a5a5a8"/>
<path d="M325.50 213.65L354.50 233.30L383.50 238.70L412.50 241.70L441.50 241.70L470.50 241.70L499.50 241.70L528.50 241.70" stroke="#f9c43a" stroke-width="1.4" fill="none" stroke-linejoin="round"/>
<path d="M323.80 211.95L327.20 215.35M327.20 211.95L323.80 215.35" stroke="#fbc32a" stroke-width="1.1" fill="none"/>
<path d="M352.80 231.60L356.20 235.00M356.20 231.60L352.80 235.00" stroke="#fbc32a" stroke-width="1.1" fill="none"/>
<path d="M381.80 237.00L385.20 240.40M385.20 237.00L381.80 240.40" stroke="#fbc32a" stroke-width="1.1" fill="none"/>
<path d="M410.80 240.00L414.20 243.40M414.20 240.00L410.80 243.40" stroke="#fbc32a" stroke-width="1.1" fill="none"/>
<path d="M439.80 240.00L443.20 243.40M443.20 240.00L439.80 243.40" stroke="#fbc32a" stroke-width="1.1" fill="none"/>
<path d="M468.80 240.00L472.20 243.40M472.20 240.00L468.80 243.40" stroke="#fbc32a" stroke-width="1.1" fill="none"/>
<path d="M497.80 240.00L501.20 243.40M501.20 240.00L497.80 243.40" stroke="#fbc32a" stroke-width="1.1" fill="none"/>
<path d="M526.80 240.00L530.20 243.40M530.20 240.00L526.80 243.40" stroke="#fbc32a" stroke-width="1.1" fill="none"/>
<path d="M325.50 218.45L354.50 237.50L383.50 241.25L412.50 241.77L441.50 241.77L470.50 241.77L499.50 241.77L528.50 241.77" stroke="#4176c4" stroke-width="1.4" fill="none" stroke-linejoin="round"/>
<path d="M323.80 216.75L327.20 220.15M327.20 216.75L323.80 220.15M325.50 216.35L325.50 220.55" stroke="#3f78c8" stroke-width="1.1" fill="none"/>
<path d="M352.80 235.80L356.20 239.20M356.20 235.80L352.80 239.20M354.50 235.40L354.50 239.60" stroke="#3f78c8" stroke-width="1.1" fill="none"/>
<path d="M381.80 239.55L385.20 242.95M385.20 239.55L381.80 242.95M383.50 239.15L383.50 243.35" stroke="#3f78c8" stroke-width="1.1" fill="none"/>
<path d="M410.80 240.07L414.20 243.47M414.20 240.07L410.80 243.47M412.50 239.67L412.50 243.87" stroke="#3f78c8" stroke-width="1.1" fill="none"/>
<path d="M439.80 240.07L443.20 243.47M443.20 240.07L439.80 243.47M441.50 239.67L441.50 243.87" stroke="#3f78c8" stroke-width="1.1" fill="none"/>
<path d="M468.80 240.07L472.20 243.47M472.20 240.07L468.80 243.47M470.50 239.67L470.50 243.87" stroke="#3f78c8" stroke-width="1.1" fill="none"/>
<path d="M497.80 240.07L501.20 243.47M501.20 240.07L497.80 243.47M499.50 239.67L499.50 243.87" stroke="#3f78c8" stroke-width="1.1" fill="none"/>
<path d="M526.80 240.07L530.20 243.47M530.20 240.07L526.80 243.47M528.50 239.67L528.50 243.87" stroke="#3f78c8" stroke-width="1.1" fill="none"/></g><g><text x="99.00" y="287.10" font-size="8.9" textLength="70.50" lengthAdjust="spacing" class="t tt">MAX_DEPTH=9</text>
<line x1="21.50" y1="299.50" x2="34.20" y2="299.50" stroke="#3a96d2" stroke-width="1.4"/>
<path d="M27.85 297.50L29.85 299.50L27.85 301.50L25.86 299.50Z" fill="#2f93d6"/>
<text x="35.70" y="301.50" font-size="7.15" class="t tl" textLength="60.3" lengthAdjust="spacingAndGlyphs">learning rate = 0.1</text>
<line x1="98.20" y1="299.50" x2="110.90" y2="299.50" stroke="#f2803d" stroke-width="1.4"/>
<rect x="102.36" y="297.31" width="4.37" height="4.37" fill="#f5731f"/>
<text x="112.40" y="301.50" font-size="7.15" class="t tl" textLength="60.3" lengthAdjust="spacingAndGlyphs">learning rate = 0.2</text>
<line x1="174.90" y1="299.50" x2="187.60" y2="299.50" stroke="#a6a6a9" stroke-width="1.4"/>
<path d="M181.25 297.41L183.34 301.17L179.16 301.17Z" fill="#a5a5a8"/>
<text x="189.10" y="301.50" font-size="7.15" class="t tl" textLength="60.3" lengthAdjust="spacingAndGlyphs">learning rate = 0.3</text>
<line x1="21.50" y1="311.90" x2="34.20" y2="311.90" stroke="#f9c43a" stroke-width="1.4"/>
<path d="M26.24 310.28L29.46 313.51M29.46 310.28L26.24 313.51" stroke="#fbc32a" stroke-width="1.1" fill="none"/>
<text x="35.70" y="313.90" font-size="7.15" class="t tl" textLength="60.3" lengthAdjust="spacingAndGlyphs">learning rate = 0.4</text>
<line x1="98.20" y1="311.90" x2="110.90" y2="311.90" stroke="#4176c4" stroke-width="1.4"/>
<path d="M102.94 310.28L106.16 313.51M106.16 310.28L102.94 313.51M104.55 309.88L104.55 313.91" stroke="#3f78c8" stroke-width="1.1" fill="none"/>
<text x="112.40" y="313.90" font-size="7.15" class="t tl" textLength="60.3" lengthAdjust="spacingAndGlyphs">learning rate = 0.5</text>
<line x1="30.00" y1="323.40" x2="30.00" y2="383.90" stroke="#e9e9e9" stroke-width="1"/>
<line x1="59.34" y1="323.40" x2="59.34" y2="383.90" stroke="#e9e9e9" stroke-width="1"/>
<line x1="88.67" y1="323.40" x2="88.67" y2="383.90" stroke="#e9e9e9" stroke-width="1"/>
<line x1="118.01" y1="323.40" x2="118.01" y2="383.90" stroke="#e9e9e9" stroke-width="1"/>
<line x1="147.35" y1="323.40" x2="147.35" y2="383.90" stroke="#e9e9e9" stroke-width="1"/>
<line x1="176.69" y1="323.40" x2="176.69" y2="383.90" stroke="#e9e9e9" stroke-width="1"/>
<line x1="206.02" y1="323.40" x2="206.02" y2="383.90" stroke="#e9e9e9" stroke-width="1"/>
<line x1="235.36" y1="323.40" x2="235.36" y2="383.90" stroke="#e9e9e9" stroke-width="1"/>
<line x1="264.70" y1="323.40" x2="264.70" y2="383.90" stroke="#e9e9e9" stroke-width="1"/>
<line x1="30.00" y1="383.90" x2="264.70" y2="383.90" stroke="#e9e9e9" stroke-width="1"/>
<text x="23.9" y="386.50" font-size="7.0" class="t ta" text-anchor="end">0</text>
<text x="23.9" y="371.38" font-size="7.0" class="t ta" text-anchor="end">10</text>
<text x="23.9" y="356.25" font-size="7.0" class="t ta" text-anchor="end">20</text>
<text x="23.9" y="341.12" font-size="7.0" class="t ta" text-anchor="end">30</text>
<text x="23.9" y="326.00" font-size="7.0" class="t ta" text-anchor="end">40</text>
<text transform="translate(12.55,354.30) rotate(-90)" font-size="7.0" class="t ta" text-anchor="middle">MAE</text>
<text x="44.67" y="395.00" font-size="7.0" letter-spacing="0.6" class="t ta" text-anchor="middle">1</text>
<text x="74.01" y="395.00" font-size="7.0" letter-spacing="0.6" class="t ta" text-anchor="middle">3</text>
<text x="103.34" y="395.00" font-size="7.0" letter-spacing="0.6" class="t ta" text-anchor="middle">5</text>
<text x="132.68" y="395.00" font-size="7.0" letter-spacing="0.6" class="t ta" text-anchor="middle">10</text>
<text x="162.02" y="395.00" font-size="7.0" letter-spacing="0.6" class="t ta" text-anchor="middle">20</text>
<text x="191.36" y="395.00" font-size="7.0" letter-spacing="0.6" class="t ta" text-anchor="middle">50</text>
<text x="220.69" y="395.00" font-size="7.0" letter-spacing="0.6" class="t ta" text-anchor="middle">100</text>
<text x="250.03" y="395.00" font-size="7.0" letter-spacing="0.6" class="t ta" text-anchor="middle">500</text>
<text x="112.85" y="405.20" font-size="7.5" class="t tx" textLength="68.80" lengthAdjust="spacingAndGlyphs">NUMBER OF TREES</text>
<path d="M44.67 336.56L74.01 345.63L103.34 352.89L132.68 365.45L162.02 376.79L191.36 380.80L220.69 380.80L250.03 380.80" stroke="#3a96d2" stroke-width="1.4" fill="none" stroke-linejoin="round"/>
<path d="M44.67 334.46L46.77 336.56L44.67 338.66L42.57 336.56Z" fill="#2f93d6"/>
<path d="M74.01 343.53L76.11 345.63L74.01 347.73L71.91 345.63Z" fill="#2f93d6"/>
<path d="M103.34 350.79L105.44 352.89L103.34 354.99L101.24 352.89Z" fill="#2f93d6"/>
<path d="M132.68 363.35L134.78 365.45L132.68 367.55L130.58 365.45Z" fill="#2f93d6"/>
<path d="M162.02 374.69L164.12 376.79L162.02 378.89L159.92 376.79Z" fill="#2f93d6"/>
<path d="M191.36 378.70L193.46 380.80L191.36 382.90L189.26 380.80Z" fill="#2f93d6"/>
<path d="M220.69 378.70L222.79 380.80L220.69 382.90L218.59 380.80Z" fill="#2f93d6"/>
<path d="M250.03 378.70L252.13 380.80L250.03 382.90L247.93 380.80Z" fill="#2f93d6"/>
<path d="M44.67 341.85L74.01 356.83L103.34 366.35L132.68 376.94L162.02 379.97L191.36 380.88L220.69 380.88L250.03 380.88" stroke="#f2803d" stroke-width="1.4" fill="none" stroke-linejoin="round"/>
<rect x="42.37" y="339.55" width="4.60" height="4.60" fill="#f5731f"/>
<rect x="71.71" y="354.53" width="4.60" height="4.60" fill="#f5731f"/>
<rect x="101.04" y="364.05" width="4.60" height="4.60" fill="#f5731f"/>
<rect x="130.38" y="374.64" width="4.60" height="4.60" fill="#f5731f"/>
<rect x="159.72" y="377.67" width="4.60" height="4.60" fill="#f5731f"/>
<rect x="189.06" y="378.57" width="4.60" height="4.60" fill="#f5731f"/>
<rect x="218.39" y="378.57" width="4.60" height="4.60" fill="#f5731f"/>
<rect x="247.73" y="378.57" width="4.60" height="4.60" fill="#f5731f"/>
<path d="M44.67 347.45L74.01 366.05L103.34 374.37L132.68 380.42L162.02 380.88L191.36 380.88L220.69 380.88L250.03 380.88" stroke="#a6a6a9" stroke-width="1.4" fill="none" stroke-linejoin="round"/>
<path d="M44.67 345.25L46.87 349.21L42.47 349.21Z" fill="#a5a5a8"/>
<path d="M74.01 363.85L76.21 367.81L71.81 367.81Z" fill="#a5a5a8"/>
<path d="M103.34 372.17L105.54 376.13L101.14 376.13Z" fill="#a5a5a8"/>
<path d="M132.68 378.22L134.88 382.18L130.48 382.18Z" fill="#a5a5a8"/>
<path d="M162.02 378.68L164.22 382.63L159.82 382.63Z" fill="#a5a5a8"/>
<path d="M191.36 378.68L193.56 382.63L189.16 382.63Z" fill="#a5a5a8"/>
<path d="M220.69 378.68L222.89 382.63L218.49 382.63Z" fill="#a5a5a8"/>
<path d="M250.03 378.68L252.23 382.63L247.83 382.63Z" fill="#a5a5a8"/>
<path d="M44.67 352.59L74.01 372.40L103.34 377.85L132.68 380.88L162.02 380.88L191.36 380.88L220.69 380.88L250.03 380.88" stroke="#f9c43a" stroke-width="1.4" fill="none" stroke-linejoin="round"/>
<path d="M42.97 350.89L46.37 354.29M46.37 350.89L42.97 354.29" stroke="#fbc32a" stroke-width="1.1" fill="none"/>
<path d="M72.31 370.70L75.71 374.10M75.71 370.70L72.31 374.10" stroke="#fbc32a" stroke-width="1.1" fill="none"/>
<path d="M101.64 376.15L105.04 379.55M105.04 376.15L101.64 379.55" stroke="#fbc32a" stroke-width="1.1" fill="none"/>
<path d="M130.98 379.18L134.38 382.57M134.38 379.18L130.98 382.57" stroke="#fbc32a" stroke-width="1.1" fill="none"/>
<path d="M160.32 379.18L163.72 382.57M163.72 379.18L160.32 382.57" stroke="#fbc32a" stroke-width="1.1" fill="none"/>
<path d="M189.66 379.18L193.06 382.57M193.06 379.18L189.66 382.57" stroke="#fbc32a" stroke-width="1.1" fill="none"/>
<path d="M218.99 379.18L222.39 382.57M222.39 379.18L218.99 382.57" stroke="#fbc32a" stroke-width="1.1" fill="none"/>
<path d="M248.33 379.18L251.73 382.57M251.73 379.18L248.33 382.57" stroke="#fbc32a" stroke-width="1.1" fill="none"/>
<path d="M44.67 357.43L74.01 376.64L103.34 380.42L132.68 380.95L162.02 380.95L191.36 380.95L220.69 380.95L250.03 380.95" stroke="#4176c4" stroke-width="1.4" fill="none" stroke-linejoin="round"/>
<path d="M42.97 355.73L46.37 359.13M46.37 355.73L42.97 359.13M44.67 355.33L44.67 359.53" stroke="#3f78c8" stroke-width="1.1" fill="none"/>
<path d="M72.31 374.94L75.71 378.34M75.71 374.94L72.31 378.34M74.01 374.54L74.01 378.74" stroke="#3f78c8" stroke-width="1.1" fill="none"/>
<path d="M101.64 378.72L105.04 382.12M105.04 378.72L101.64 382.12M103.34 378.32L103.34 382.52" stroke="#3f78c8" stroke-width="1.1" fill="none"/>
<path d="M130.98 379.25L134.38 382.65M134.38 379.25L130.98 382.65M132.68 378.85L132.68 383.05" stroke="#3f78c8" stroke-width="1.1" fill="none"/>
<path d="M160.32 379.25L163.72 382.65M163.72 379.25L160.32 382.65M162.02 378.85L162.02 383.05" stroke="#3f78c8" stroke-width="1.1" fill="none"/>
<path d="M189.66 379.25L193.06 382.65M193.06 379.25L189.66 382.65M191.36 378.85L191.36 383.05" stroke="#3f78c8" stroke-width="1.1" fill="none"/>
<path d="M218.99 379.25L222.39 382.65M222.39 379.25L218.99 382.65M220.69 378.85L220.69 383.05" stroke="#3f78c8" stroke-width="1.1" fill="none"/>
<path d="M248.33 379.25L251.73 382.65M251.73 379.25L248.33 382.65M250.03 378.85L250.03 383.05" stroke="#3f78c8" stroke-width="1.1" fill="none"/></g><g><text x="375.90" y="287.50" font-size="8.9" textLength="76.30" lengthAdjust="spacing" class="t tt">MAX_DEPTH=10</text>
<line x1="301.50" y1="299.90" x2="314.20" y2="299.90" stroke="#3a96d2" stroke-width="1.4"/>
<path d="M307.85 297.90L309.85 299.90L307.85 301.89L305.86 299.90Z" fill="#2f93d6"/>
<text x="315.70" y="301.90" font-size="7.15" class="t tl" textLength="60.3" lengthAdjust="spacingAndGlyphs">learning rate = 0.1</text>
<line x1="378.20" y1="299.90" x2="390.90" y2="299.90" stroke="#f2803d" stroke-width="1.4"/>
<rect x="382.37" y="297.71" width="4.37" height="4.37" fill="#f5731f"/>
<text x="392.40" y="301.90" font-size="7.15" class="t tl" textLength="60.3" lengthAdjust="spacingAndGlyphs">learning rate = 0.2</text>
<line x1="454.90" y1="299.90" x2="467.60" y2="299.90" stroke="#a6a6a9" stroke-width="1.4"/>
<path d="M461.25 297.81L463.34 301.57L459.16 301.57Z" fill="#a5a5a8"/>
<text x="469.10" y="301.90" font-size="7.15" class="t tl" textLength="60.3" lengthAdjust="spacingAndGlyphs">learning rate = 0.3</text>
<line x1="301.50" y1="311.90" x2="314.20" y2="311.90" stroke="#f9c43a" stroke-width="1.4"/>
<path d="M306.24 310.28L309.47 313.51M309.47 310.28L306.24 313.51" stroke="#fbc32a" stroke-width="1.1" fill="none"/>
<text x="315.70" y="313.90" font-size="7.15" class="t tl" textLength="60.3" lengthAdjust="spacingAndGlyphs">learning rate = 0.4</text>
<line x1="378.20" y1="311.90" x2="390.90" y2="311.90" stroke="#4176c4" stroke-width="1.4"/>
<path d="M382.94 310.28L386.17 313.51M386.17 310.28L382.94 313.51M384.55 309.88L384.55 313.91" stroke="#3f78c8" stroke-width="1.1" fill="none"/>
<text x="392.40" y="313.90" font-size="7.15" class="t tl" textLength="60.3" lengthAdjust="spacingAndGlyphs">learning rate = 0.5</text>
<line x1="312.40" y1="323.60" x2="312.40" y2="384.00" stroke="#e9e9e9" stroke-width="1"/>
<line x1="341.04" y1="323.60" x2="341.04" y2="384.00" stroke="#e9e9e9" stroke-width="1"/>
<line x1="369.67" y1="323.60" x2="369.67" y2="384.00" stroke="#e9e9e9" stroke-width="1"/>
<line x1="398.31" y1="323.60" x2="398.31" y2="384.00" stroke="#e9e9e9" stroke-width="1"/>
<line x1="426.95" y1="323.60" x2="426.95" y2="384.00" stroke="#e9e9e9" stroke-width="1"/>
<line x1="455.59" y1="323.60" x2="455.59" y2="384.00" stroke="#e9e9e9" stroke-width="1"/>
<line x1="484.23" y1="323.60" x2="484.23" y2="384.00" stroke="#e9e9e9" stroke-width="1"/>
<line x1="512.86" y1="323.60" x2="512.86" y2="384.00" stroke="#e9e9e9" stroke-width="1"/>
<line x1="541.50" y1="323.60" x2="541.50" y2="384.00" stroke="#e9e9e9" stroke-width="1"/>
<line x1="312.40" y1="384.00" x2="541.50" y2="384.00" stroke="#e9e9e9" stroke-width="1"/>
<text x="306.4" y="386.60" font-size="7.0" class="t ta" text-anchor="end">0</text>
<text x="306.4" y="371.50" font-size="7.0" class="t ta" text-anchor="end">10</text>
<text x="306.4" y="356.40" font-size="7.0" class="t ta" text-anchor="end">20</text>
<text x="306.4" y="341.30" font-size="7.0" class="t ta" text-anchor="end">30</text>
<text x="306.4" y="326.20" font-size="7.0" class="t ta" text-anchor="end">40</text>
<text transform="translate(295.15,354.30) rotate(-90)" font-size="7.0" class="t ta" text-anchor="middle">MAE</text>
<text x="326.72" y="395.50" font-size="7.0" letter-spacing="0.6" class="t ta" text-anchor="middle">1</text>
<text x="355.36" y="395.50" font-size="7.0" letter-spacing="0.6" class="t ta" text-anchor="middle">3</text>
<text x="383.99" y="395.50" font-size="7.0" letter-spacing="0.6" class="t ta" text-anchor="middle">5</text>
<text x="412.63" y="395.50" font-size="7.0" letter-spacing="0.6" class="t ta" text-anchor="middle">10</text>
<text x="441.27" y="395.50" font-size="7.0" letter-spacing="0.6" class="t ta" text-anchor="middle">20</text>
<text x="469.91" y="395.50" font-size="7.0" letter-spacing="0.6" class="t ta" text-anchor="middle">50</text>
<text x="498.54" y="395.50" font-size="7.0" letter-spacing="0.6" class="t ta" text-anchor="middle">100</text>
<text x="527.18" y="395.50" font-size="7.0" letter-spacing="0.6" class="t ta" text-anchor="middle">500</text>
<text x="392.30" y="405.70" font-size="7.5" class="t tx" textLength="69.10" lengthAdjust="spacingAndGlyphs">NUMBER OF TREES</text>
<path d="M326.72 336.74L355.36 345.80L383.99 353.05L412.63 365.58L441.27 376.90L469.91 380.90L498.54 380.90L527.18 380.90" stroke="#3a96d2" stroke-width="1.4" fill="none" stroke-linejoin="round"/>
<path d="M326.72 334.64L328.82 336.74L326.72 338.84L324.62 336.74Z" fill="#2f93d6"/>
<path d="M355.36 343.70L357.46 345.80L355.36 347.90L353.26 345.80Z" fill="#2f93d6"/>
<path d="M383.99 350.94L386.09 353.05L383.99 355.15L381.89 353.05Z" fill="#2f93d6"/>
<path d="M412.63 363.48L414.73 365.58L412.63 367.68L410.53 365.58Z" fill="#2f93d6"/>
<path d="M441.27 374.80L443.37 376.90L441.27 379.00L439.17 376.90Z" fill="#2f93d6"/>
<path d="M469.91 378.80L472.01 380.90L469.91 383.00L467.81 380.90Z" fill="#2f93d6"/>
<path d="M498.54 378.80L500.64 380.90L498.54 383.00L496.44 380.90Z" fill="#2f93d6"/>
<path d="M527.18 378.80L529.28 380.90L527.18 383.00L525.08 380.90Z" fill="#2f93d6"/>
<path d="M326.72 342.02L355.36 356.97L383.99 366.48L412.63 377.05L441.27 380.07L469.91 380.98L498.54 380.98L527.18 380.98" stroke="#f2803d" stroke-width="1.4" fill="none" stroke-linejoin="round"/>
<rect x="324.42" y="339.72" width="4.60" height="4.60" fill="#f5731f"/>
<rect x="353.06" y="354.67" width="4.60" height="4.60" fill="#f5731f"/>
<rect x="381.69" y="364.18" width="4.60" height="4.60" fill="#f5731f"/>
<rect x="410.33" y="374.75" width="4.60" height="4.60" fill="#f5731f"/>
<rect x="438.97" y="377.77" width="4.60" height="4.60" fill="#f5731f"/>
<rect x="467.61" y="378.68" width="4.60" height="4.60" fill="#f5731f"/>
<rect x="496.24" y="378.68" width="4.60" height="4.60" fill="#f5731f"/>
<rect x="524.88" y="378.68" width="4.60" height="4.60" fill="#f5731f"/>
<path d="M326.72 347.61L355.36 366.18L383.99 374.49L412.63 380.53L441.27 380.98L469.91 380.98L498.54 380.98L527.18 380.98" stroke="#a6a6a9" stroke-width="1.4" fill="none" stroke-linejoin="round"/>
<path d="M326.72 345.41L328.92 349.37L324.52 349.37Z" fill="#a5a5a8"/>
<path d="M355.36 363.98L357.56 367.94L353.16 367.94Z" fill="#a5a5a8"/>
<path d="M383.99 372.29L386.19 376.25L381.79 376.25Z" fill="#a5a5a8"/>
<path d="M412.63 378.33L414.83 382.29L410.43 382.29Z" fill="#a5a5a8"/>
<path d="M441.27 378.78L443.47 382.74L439.07 382.74Z" fill="#a5a5a8"/>
<path d="M469.91 378.78L472.11 382.74L467.71 382.74Z" fill="#a5a5a8"/>
<path d="M498.54 378.78L500.74 382.74L496.34 382.74Z" fill="#a5a5a8"/>
<path d="M527.18 378.78L529.38 382.74L524.98 382.74Z" fill="#a5a5a8"/>
<path d="M326.72 352.74L355.36 372.52L383.99 377.96L412.63 380.98L441.27 380.98L469.91 380.98L498.54 380.98L527.18 380.98" stroke="#f9c43a" stroke-width="1.4" fill="none" stroke-linejoin="round"/>
<path d="M325.02 351.04L328.42 354.44M328.42 351.04L325.02 354.44" stroke="#fbc32a" stroke-width="1.1" fill="none"/>
<path d="M353.66 370.82L357.06 374.22M357.06 370.82L353.66 374.22" stroke="#fbc32a" stroke-width="1.1" fill="none"/>
<path d="M382.29 376.26L385.69 379.66M385.69 376.26L382.29 379.66" stroke="#fbc32a" stroke-width="1.1" fill="none"/>
<path d="M410.93 379.28L414.33 382.68M414.33 379.28L410.93 382.68" stroke="#fbc32a" stroke-width="1.1" fill="none"/>
<path d="M439.57 379.28L442.97 382.68M442.97 379.28L439.57 382.68" stroke="#fbc32a" stroke-width="1.1" fill="none"/>
<path d="M468.21 379.28L471.61 382.68M471.61 379.28L468.21 382.68" stroke="#fbc32a" stroke-width="1.1" fill="none"/>
<path d="M496.84 379.28L500.24 382.68M500.24 379.28L496.84 382.68" stroke="#fbc32a" stroke-width="1.1" fill="none"/>
<path d="M525.48 379.28L528.88 382.68M528.88 379.28L525.48 382.68" stroke="#fbc32a" stroke-width="1.1" fill="none"/>
<path d="M326.72 357.57L355.36 376.75L383.99 380.53L412.63 381.06L441.27 381.06L469.91 381.06L498.54 381.06L527.18 381.06" stroke="#4176c4" stroke-width="1.4" fill="none" stroke-linejoin="round"/>
<path d="M325.02 355.88L328.42 359.27M328.42 355.88L325.02 359.27M326.72 355.48L326.72 359.67" stroke="#3f78c8" stroke-width="1.1" fill="none"/>
<path d="M353.66 375.05L357.06 378.45M357.06 375.05L353.66 378.45M355.36 374.65L355.36 378.85" stroke="#3f78c8" stroke-width="1.1" fill="none"/>
<path d="M382.29 378.83L385.69 382.23M385.69 378.83L382.29 382.23M383.99 378.43L383.99 382.63" stroke="#3f78c8" stroke-width="1.1" fill="none"/>
<path d="M410.93 379.36L414.33 382.76M414.33 379.36L410.93 382.76M412.63 378.96L412.63 383.16" stroke="#3f78c8" stroke-width="1.1" fill="none"/>
<path d="M439.57 379.36L442.97 382.76M442.97 379.36L439.57 382.76M441.27 378.96L441.27 383.16" stroke="#3f78c8" stroke-width="1.1" fill="none"/>
<path d="M468.21 379.36L471.61 382.76M471.61 379.36L468.21 382.76M469.91 378.96L469.91 383.16" stroke="#3f78c8" stroke-width="1.1" fill="none"/>
<path d="M496.84 379.36L500.24 382.76M500.24 379.36L496.84 382.76M498.54 378.96L498.54 383.16" stroke="#3f78c8" stroke-width="1.1" fill="none"/>
<path d="M525.48 379.36L528.88 382.76M528.88 379.36L525.48 382.76M527.18 378.96L527.18 383.16" stroke="#3f78c8" stroke-width="1.1" fill="none"/></g>
</svg>
</body></html>
